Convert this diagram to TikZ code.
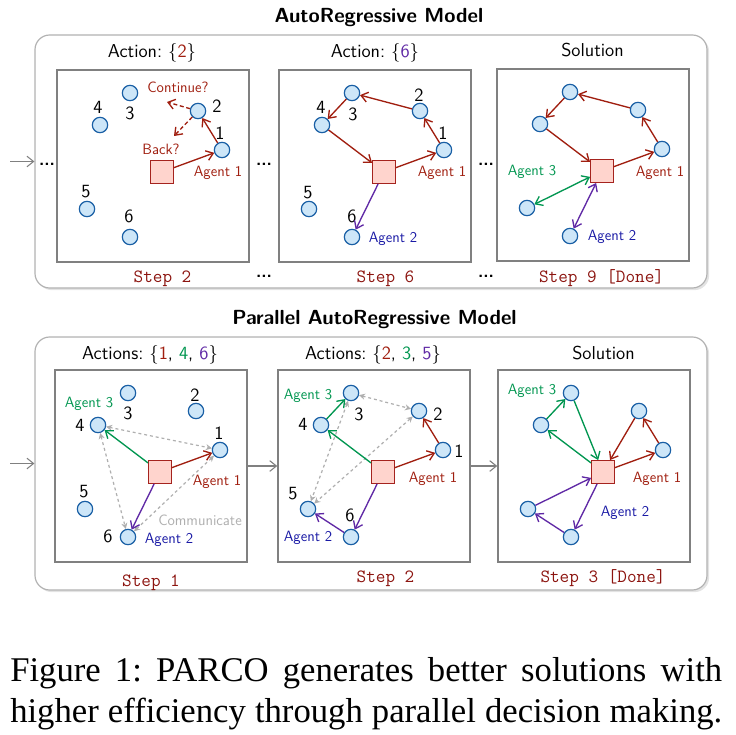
\documentclass[tikz,border=0pt]{standalone}
\usepackage{fontspec}
\newfontfamily\capfont{Liberation Serif}
\usetikzlibrary{arrows.meta,shadows}
\frenchspacing
\definecolor{cityfill}{RGB}{205,230,248}
\definecolor{cityline}{RGB}{25,95,165}
\definecolor{depotfill}{RGB}{255,212,205}
\definecolor{depotline}{RGB}{165,35,30}
\definecolor{ared}{RGB}{160,30,15}
\definecolor{agreen}{RGB}{0,150,80}
\definecolor{apurple}{RGB}{95,40,165}
\definecolor{ablue}{RGB}{25,25,165}
\definecolor{commgray}{RGB}{175,175,175}
\definecolor{steptext}{RGB}{140,20,15}
\tikzset{
 city/.style={circle, draw=cityline, fill=cityfill, line width=0.9pt, minimum size=11.5pt, inner sep=0pt},
 depot/.style={rectangle, draw=depotline, fill=depotfill, line width=0.9pt, minimum size=17pt, inner sep=0pt},
 panel/.style={rectangle, draw=black!50, fill=white, line width=1.1pt, minimum size=144pt, inner sep=0pt},
 outerbox/.style={rectangle, rounded corners=11pt, draw=black!30, fill=white, line width=0.9pt, inner sep=0pt,
   minimum width=504pt, minimum height=189.75pt,
   drop shadow={shadow xshift=1.6pt, shadow yshift=-1.6pt, opacity=0.22}},
 num/.style={font=\sffamily\fontsize{14}{16}\selectfont, inner sep=0pt},
 lab/.style={font=\sffamily\fontsize{11.2}{13}\selectfont, inner sep=0pt},
 head/.style={font=\sffamily\fontsize{14}{16}\selectfont, inner sep=0pt, anchor=base},
 bighead/.style={font=\sffamily\bfseries\fontsize{15.3}{18}\selectfont, inner sep=0pt, anchor=base},
 steplab/.style={font=\ttfamily\fontsize{14}{16}\selectfont, text=steptext, inner sep=0pt, anchor=base},
 dotslab/.style={font=\sffamily\bfseries\fontsize{13}{16}\selectfont, inner sep=0pt, anchor=base},
 arr/.style={line width=1pt, -{Straight Barb[length=5pt,width=7.5pt]}},
 biarr/.style={line width=1pt, {Straight Barb[length=5pt,width=7.5pt]}-{Straight Barb[length=5pt,width=7.5pt]}},
 redE/.style={arr, draw=ared},
 greenE/.style={arr, draw=agreen},
 purpleE/.style={arr, draw=apurple},
 dashE/.style={arr, draw=ared, dash pattern=on 3pt off 2pt},
 comm/.style={draw=commgray, line width=0.9pt, dash pattern=on 2.2pt off 2.2pt,
   {Stealth[length=4.5pt,width=4.5pt]}-{Stealth[length=4.5pt,width=4.5pt]}},
 grayarr/.style={draw=black!50, line width=0.8pt, -{Straight Barb[length=5pt,width=8pt]}},
}
\newcommand\placecities[1]{%
 \node[city] (#1n1) at (165,80) {};
 \node[city] (#1n2) at (141,41) {};
 \node[city] (#1n3) at (73,23) {};
 \node[city] (#1n4) at (43,55) {};
 \node[city] (#1n5) at (30,139) {};
 \node[city] (#1n6) at (73,167) {};
 \node[depot] (#1d) at (105,102) {};
}
\begin{document}
\begin{tikzpicture}[x=0.75pt,y=-0.75pt]
\useasboundingbox (0,0) rectangle (736,735);

% ---------------- Top: AutoRegressive ----------------
\node[bighead] (title1) at (379,22.5) {AutoRegressive Model};
\node[outerbox] (TopBox) at (371,161.5) {};
\coordinate (inT) at (10,161.5);
\draw[grayarr] (inT) -- (TopBox.west);

\node[head] (h1) at (152,57.5) {Action: \{\textcolor{ared}{2}\}};
\node[head] (h2) at (375,57.5) {Action: \{\textcolor{apurple}{6}\}};
\node[head] (h3) at (592.5,57) {Solution};

\node[dotslab] (d1) at (47,166) {...};
\node[dotslab] (d2) at (264,166) {...};
\node[dotslab] (d3) at (264,277) {...};
\node[dotslab] (d4) at (486,166) {...};
\node[dotslab] (d5) at (486,277) {...};

\node[steplab] (s1) at (162.5,282) {Step 2};
\node[steplab] (s2) at (385.5,282) {Step 6};
\node[steplab] (s3) at (601.5,282) {Step 9 [Done]};

% panel T1
\begin{scope}[shift={(57,70)}]
 \node[panel] (T1) at (96,96) {};
 \placecities{t1}
 \node[num] at (41,37) {4};
 \node[num] at (73,43) {3};
 \node[num] at (160,36) {2};
 \node[num] at (163,63) {1};
 \node[num] at (29,122) {5};
 \node[num] at (72,146) {6};
 \node[lab, text=ared] (t1cont) at (121,17) {Continue?};
 \node[lab, text=ared] (t1back) at (104,79) {Back?};
 \node[lab, text=ared] (t1ag1) at (161,103) {Agent 1};
 \coordinate (t1c) at (110,32);
 \coordinate (t1b) at (117,66);
 \draw[redE] (t1d) -- (t1n1);
 \draw[redE] (t1n1) -- (t1n2);
 \draw[dashE] (t1n2) -- (t1c);
 \draw[dashE] (t1n2) -- (t1b);
\end{scope}

% panel T2
\begin{scope}[shift={(279,70)}]
 \node[panel] (T2) at (96,96) {};
 \placecities{t2}
 \node[num] at (42,37) {4};
 \node[num] at (74,44) {3};
 \node[num] at (140,25) {2};
 \node[num] at (164,63) {1};
 \node[num] at (29,123) {5};
 \node[num] at (73,146) {6};
 \node[lab, text=ared] (t2ag1) at (163,103) {Agent 1};
 \node[lab, text=ablue] (t2ag2) at (114,169) {Agent 2};
 \draw[redE] (t2d) -- (t2n1);
 \draw[redE] (t2n1) -- (t2n2);
 \draw[redE] (t2n2) -- (t2n3);
 \draw[redE] (t2n3) -- (t2n4);
 \draw[redE] (t2n4) -- (t2d);
 \draw[purpleE] (t2d) -- (t2n6);
\end{scope}

% panel T3
\begin{scope}[shift={(497,69)}]
 \node[panel] (T3) at (96,96) {};
 \placecities{t3}
 \node[lab, text=agreen] (t3ag3) at (35,103) {Agent 3};
 \node[lab, text=ared] (t3ag1) at (163,104) {Agent 1};
 \node[lab, text=ablue] (t3ag2) at (115,168) {Agent 2};
 \draw[redE] (t3d) -- (t3n1);
 \draw[redE] (t3n1) -- (t3n2);
 \draw[redE] (t3n2) -- (t3n3);
 \draw[redE] (t3n3) -- (t3n4);
 \draw[redE] (t3n4) -- (t3d);
 \draw[biarr, draw=agreen] (t3d) -- (t3n5);
 \draw[biarr, draw=apurple] (t3d) -- (t3n6);
\end{scope}

% ---------------- Bottom: Parallel AutoRegressive ----------------
\node[bighead] (title2) at (374.5,324) {Parallel AutoRegressive Model};
\node[outerbox] (BotBox) at (371,463.5) {};
\coordinate (inB) at (10,463.5);
\draw[grayarr] (inB) -- (BotBox.west);

\node[head] (g1) at (150,359) {Actions: \{\textcolor{ared}{1}, \textcolor{agreen}{4}, \textcolor{apurple}{6}\}};
\node[head] (g2) at (373,359) {Actions: \{\textcolor{ared}{2}, \textcolor{agreen}{3}, \textcolor{apurple}{5}\}};
\node[head] (g3) at (603.5,359) {Solution};

\node[steplab] (u1) at (151,586) {Step 1};
\node[steplab] (u2) at (385.5,582) {Step 2};
\node[steplab] (u3) at (603,582) {Step 3 [Done]};

% panel B1
\begin{scope}[shift={(55,370)}]
 \node[panel] (B1) at (96,96) {};
 \placecities{b1}
 \node[num] at (73,43) {3};
 \node[num] at (140,25) {2};
 \node[num] at (25,55) {4};
 \node[num] at (164,63) {1};
 \node[num] at (29,122) {5};
 \node[num] at (53,166) {6};
 \node[lab, text=agreen] (b1ag3) at (34,34) {Agent 3};
 \node[lab, text=ared] (b1ag1) at (162,112) {Agent 1};
 \node[lab, text=commgray] (b1com) at (145,150) {Communicate};
 \node[lab, text=ablue] (b1ag2) at (114,170) {Agent 2};
 \draw[comm] (b1n4) -- (b1n1);
 \draw[comm] (b1n4) -- (b1n6);
 \draw[comm] (b1n6) -- (b1n1);
 \draw[greenE] (b1d) -- (b1n4);
 \draw[redE] (b1d) -- (b1n1);
 \draw[purpleE] (b1d) -- (b1n6);
\end{scope}

% panel B2
\begin{scope}[shift={(278,370)}]
 \node[panel] (B2) at (96,96) {};
 \placecities{b2}
 \node[num] at (81,44) {3};
 \node[num] at (25,54) {4};
 \node[num] at (160,44) {2};
 \node[num] at (181,81) {1};
 \node[num] at (15,124) {5};
 \node[num] at (72,145) {6};
 \node[lab, text=agreen] (b2ag3) at (30,26) {Agent 3};
 \node[lab, text=ared] (b2ag1) at (155,109) {Agent 1};
 \node[lab, text=ablue] (b2ag2) at (30,168) {Agent 2};
 \draw[comm] (b2n3) -- (b2n2);
 \draw[comm] (b2n3) -- (b2n5);
 \draw[comm] (b2n2) -- (b2n5);
 \draw[redE] (b2d) -- (b2n1);
 \draw[redE] (b2n1) -- (b2n2);
 \draw[greenE] (b2d) -- (b2n4);
 \draw[greenE] (b2n4) -- (b2n3);
 \draw[purpleE] (b2d) -- (b2n6);
 \draw[purpleE] (b2n6) -- (b2n5);
\end{scope}

% panel B3
\begin{scope}[shift={(498,370)}]
 \node[panel] (B3) at (96,96) {};
 \placecities{b3}
 \node[lab, text=agreen] (b3ag3) at (34,21) {Agent 3};
 \node[lab, text=ared] (b3ag1) at (159,109) {Agent 1};
 \node[lab, text=ablue] (b3ag2) at (127,143) {Agent 2};
 \draw[redE] (b3d) -- (b3n1);
 \draw[redE] (b3n1) -- (b3n2);
 \draw[redE] (b3n2) -- (b3d);
 \draw[greenE] (b3d) -- (b3n4);
 \draw[greenE] (b3n4) -- (b3n3);
 \draw[greenE] (b3n3) -- (b3d);
 \draw[purpleE] (b3d) -- (b3n6);
 \draw[purpleE] (b3n6) -- (b3n5);
 \draw[purpleE] (b3n5) -- (b3d);
\end{scope}

\draw[grayarr] (B1) -- (B2);
\draw[grayarr] (B2) -- (B3);

% ---------------- Caption ----------------
\node[anchor=base west, inner sep=0pt] (cap1) at (10,681)
 {\capfont\fontsize{26}{30}\selectfont\makebox[534pt][s]{Figure 1: PARCO generates better solutions with}};
\node[anchor=base west, inner sep=0pt] (cap2) at (10,722)
 {\capfont\fontsize{26}{30}\selectfont\makebox[534pt][s]{higher efficiency through parallel decision making.}};
\end{tikzpicture}
\end{document}
